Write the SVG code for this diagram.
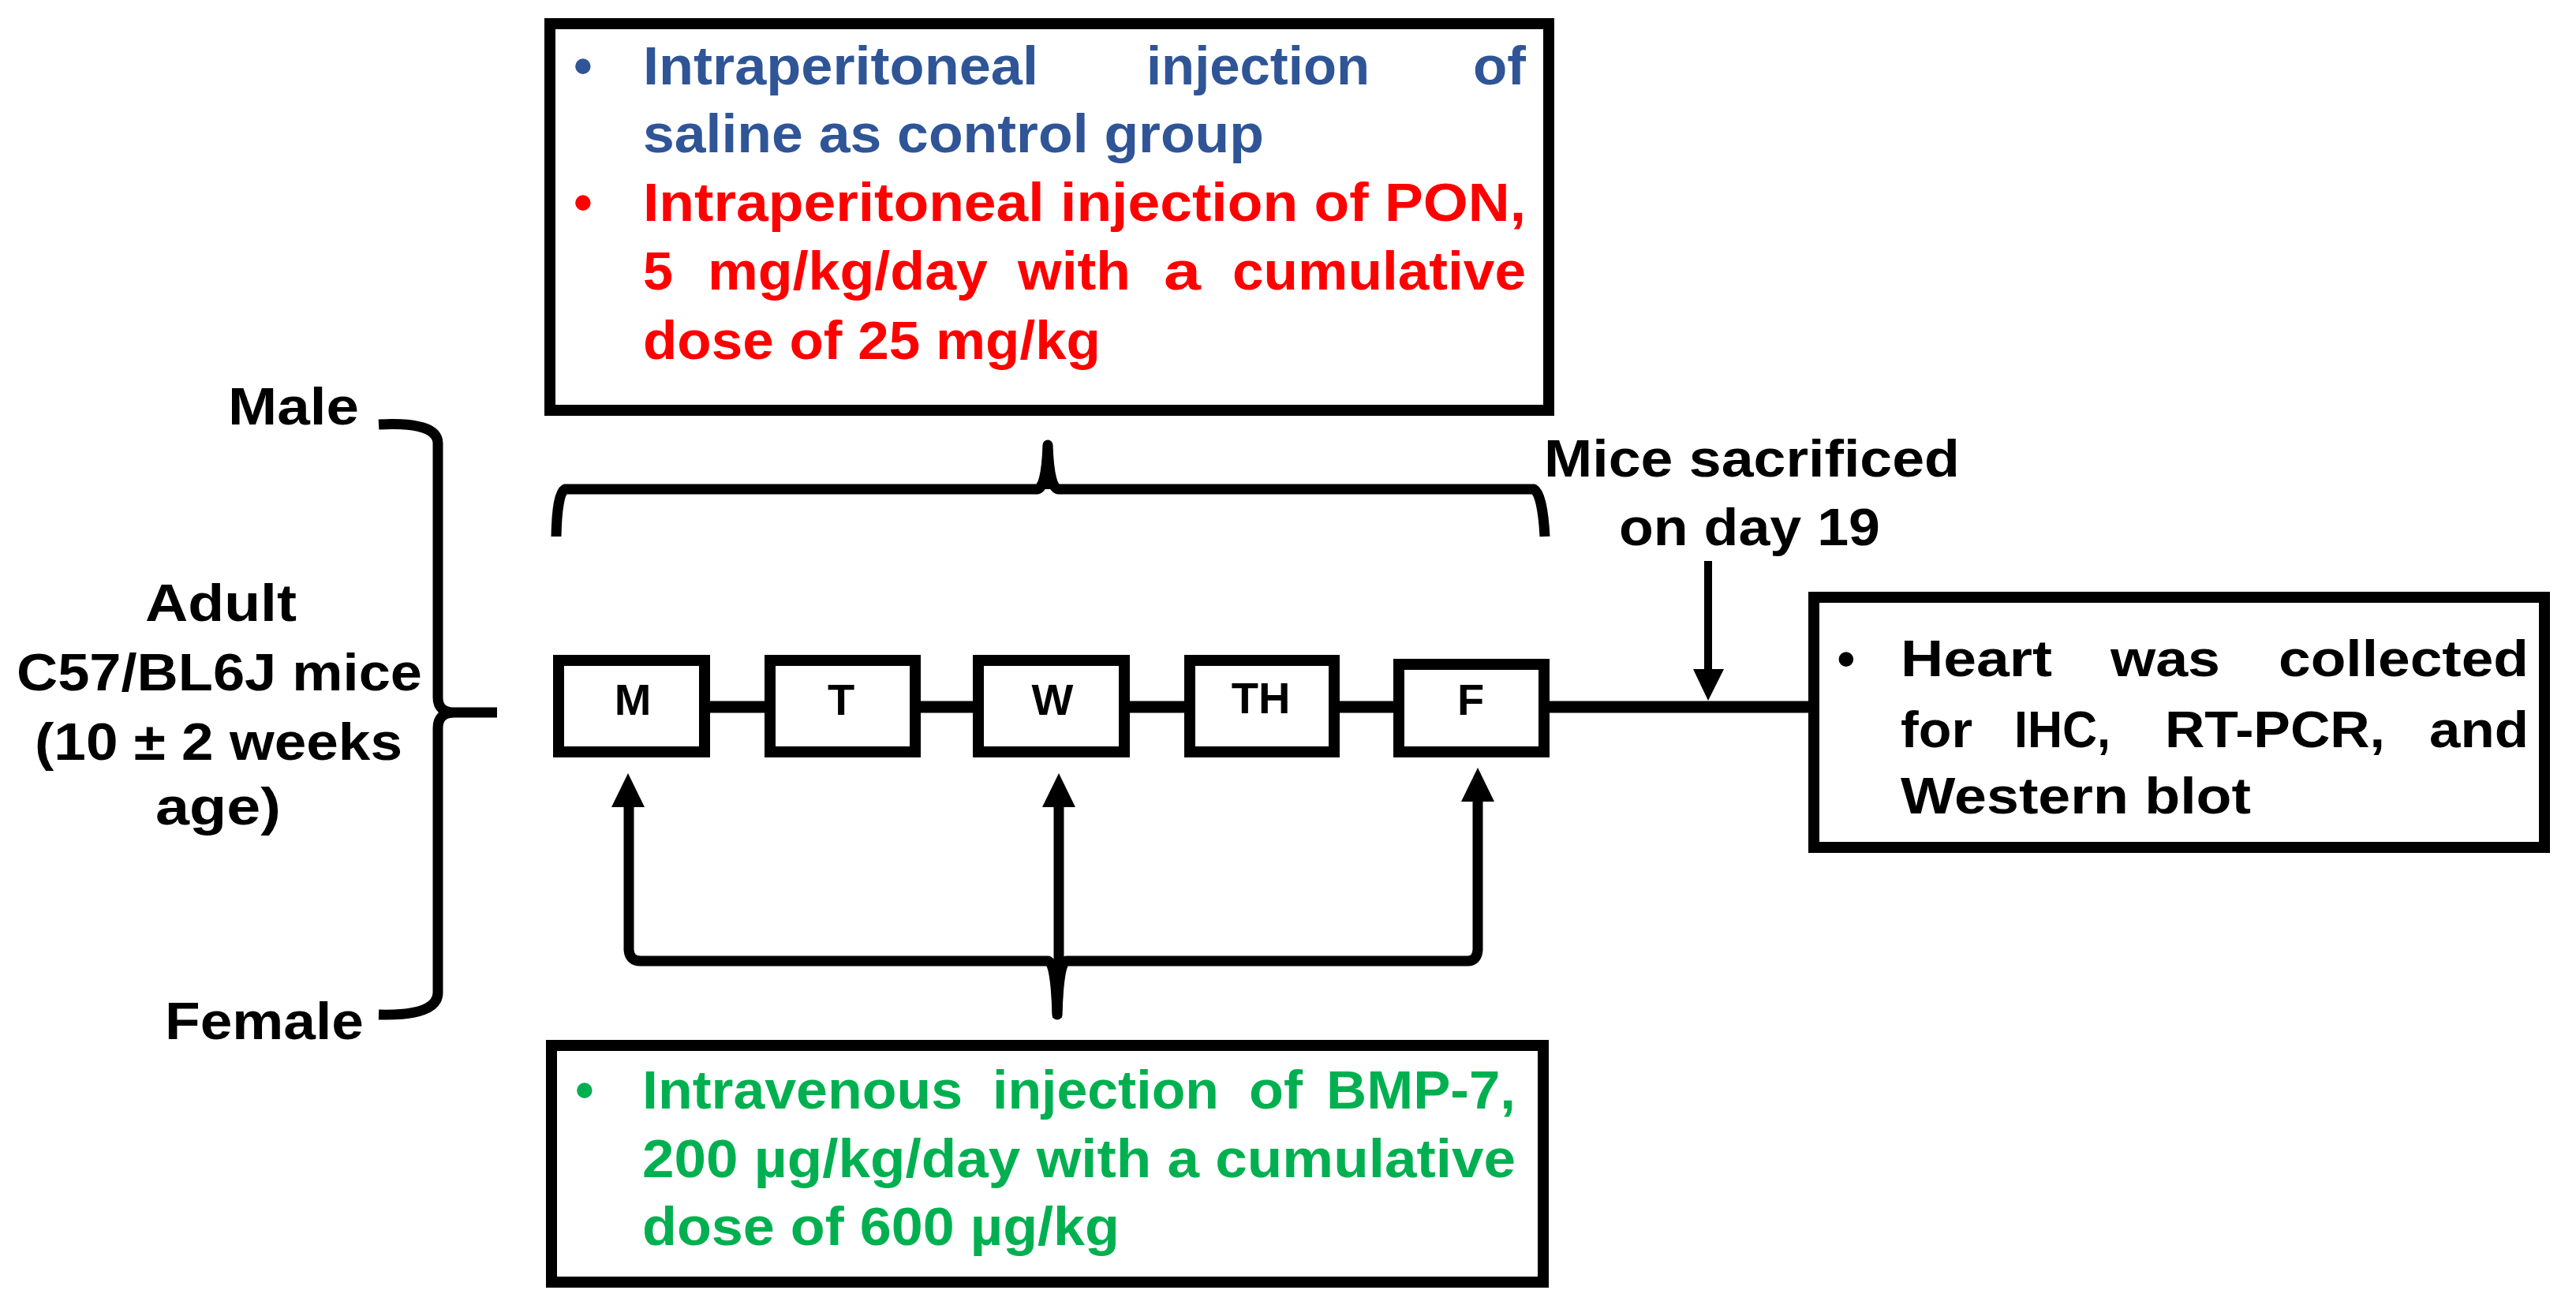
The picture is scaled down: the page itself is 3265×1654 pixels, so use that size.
<svg xmlns="http://www.w3.org/2000/svg" width="3265" height="1654" viewBox="0 0 3265 1654">
<defs>
<style>
text{font-family:"Liberation Sans",Arial,sans-serif;font-weight:bold}
.t{font-size:68px}
.s{font-size:66px}
.r{font-size:65px}
.d{font-size:56px;text-anchor:middle}
.blue{fill:#2F5597}
.red{fill:#FF0000}
.green{fill:#00B050}
.blk{fill:#000}
.box{fill:#fff;stroke:#000;stroke-width:14}
.ln{fill:none;stroke:#000;stroke-width:13;stroke-linejoin:round}
.bul{text-anchor:middle}
</style>
</defs>
<rect width="3265" height="1654" fill="#fff"/>

<g id="connectors">
<line x1="895" y1="896" x2="2300" y2="896" stroke="#000" stroke-width="15"/>
<path class="ln" d="M480,538 Q555,534 555,562 L555,884 Q555,903 576,903 L630,903 M576,903 Q555,903 555,923 L555,1258 Q555,1288 480,1286"/>
<path class="ln" d="M705,680 Q706,626 716,620 L1314,620 Q1326,620 1328,564 Q1330,620 1342,620 L1944,620 Q1955,626 1958,680"/>
<path d="M1320,620 L1323,560 L1333,560 L1336,620 Z"/>
<path class="ln" d="M797,1018 L797,1204 Q798,1218 812,1218 L1328,1218 Q1338,1218 1340,1286 Q1342,1218 1352,1218 L1860,1218 Q1872,1218 1873,1204 L1873,1012"/>
<path d="M1331,1218 L1334,1290 L1346,1290 L1349,1218 Z"/>
<line x1="1342" y1="1218" x2="1342" y2="1018" stroke="#000" stroke-width="13"/>
<polygon points="796,980 775,1023 817,1023"/>
<polygon points="1342,980 1321,1023 1363,1023"/>
<polygon points="1873,973 1852,1016 1894,1016"/>
<line x1="2165" y1="711" x2="2165" y2="852" stroke="#000" stroke-width="10"/>
<polygon points="2165,888 2146,848 2185,848"/>
</g>

<g id="top-box">
<rect class="box" x="697" y="30" width="1266" height="490"/>
<text class="t blue bul" x="739" y="107">•</text>
<text class="t blue" x="815" y="107" textLength="501" lengthAdjust="spacingAndGlyphs">Intraperitoneal</text>
<text class="t blue" x="1453" y="107" textLength="283" lengthAdjust="spacingAndGlyphs">injection</text>
<text class="t blue" x="1867" y="107" textLength="67" lengthAdjust="spacingAndGlyphs">of</text>
<text class="t blue" x="815" y="193" textLength="787" lengthAdjust="spacingAndGlyphs">saline as control group</text>
<text class="t red bul" x="739" y="280">•</text>
<text class="t red" x="815" y="280" textLength="1119" lengthAdjust="spacingAndGlyphs">Intraperitoneal injection of PON,</text>
<text class="t red" x="815" y="367" textLength="38" lengthAdjust="spacingAndGlyphs">5</text>
<text class="t red" x="897" y="367" textLength="355" lengthAdjust="spacingAndGlyphs">mg/kg/day</text>
<text class="t red" x="1290" y="367" textLength="143" lengthAdjust="spacingAndGlyphs">with</text>
<text class="t red" x="1475" y="367" textLength="47" lengthAdjust="spacingAndGlyphs">a</text>
<text class="t red" x="1562" y="367" textLength="372" lengthAdjust="spacingAndGlyphs">cumulative</text>
<text class="t red" x="815" y="455" textLength="580" lengthAdjust="spacingAndGlyphs">dose of 25 mg/kg</text>
</g>

<g id="mice-label">
<text class="s blk" x="289" y="538" textLength="166" lengthAdjust="spacingAndGlyphs">Male</text>
<text class="s blk" x="184" y="787" textLength="192" lengthAdjust="spacingAndGlyphs">Adult</text>
<text class="s blk" x="21" y="875" textLength="514" lengthAdjust="spacingAndGlyphs">C57/BL6J mice</text>
<text class="s blk" x="44" y="963" textLength="466" lengthAdjust="spacingAndGlyphs">(10 ± 2 weeks</text>
<text class="s blk" x="197" y="1045" textLength="159" lengthAdjust="spacingAndGlyphs">age)</text>
<text class="s blk" x="209" y="1317" textLength="252" lengthAdjust="spacingAndGlyphs">Female</text>
</g>

<g id="day-M"><rect class="box" x="708" y="837" width="185" height="116"/><text class="d" x="802" y="906">M</text></g>
<g id="day-T"><rect class="box" x="976" y="837" width="184" height="116"/><text class="d" x="1066" y="906">T</text></g>
<g id="day-W"><rect class="box" x="1240" y="837" width="185" height="116"/><text class="d" x="1334" y="906">W</text></g>
<g id="day-TH"><rect class="box" x="1508" y="837" width="183" height="116"/><text class="d" x="1598" y="904">TH</text></g>
<g id="day-F"><rect class="box" x="1773" y="842" width="184" height="111"/><text class="d" x="1864" y="906">F</text></g>

<g id="sacrifice-label">
<text class="s blk" x="1957" y="604" textLength="527" lengthAdjust="spacingAndGlyphs">Mice sacrificed</text>
<text class="s blk" x="2052" y="691" textLength="331" lengthAdjust="spacingAndGlyphs">on day 19</text>
</g>

<g id="right-box">
<rect class="box" x="2299" y="757" width="926" height="317"/>
<text class="r blk bul" x="2340" y="857">•</text>
<text class="r blk" x="2409" y="857" textLength="192" lengthAdjust="spacingAndGlyphs">Heart</text>
<text class="r blk" x="2675" y="857" textLength="139" lengthAdjust="spacingAndGlyphs">was</text>
<text class="r blk" x="2888" y="857" textLength="317" lengthAdjust="spacingAndGlyphs">collected</text>
<text class="r blk" x="2409" y="947" textLength="91" lengthAdjust="spacingAndGlyphs">for</text>
<text class="r blk" x="2553" y="947" textLength="122" lengthAdjust="spacingAndGlyphs">IHC,</text>
<text class="r blk" x="2744" y="947" textLength="279" lengthAdjust="spacingAndGlyphs">RT-PCR,</text>
<text class="r blk" x="3079" y="947" textLength="126" lengthAdjust="spacingAndGlyphs">and</text>
<text class="r blk" x="2409" y="1031" textLength="444" lengthAdjust="spacingAndGlyphs">Western blot</text>
</g>

<g id="bottom-box">
<rect class="box" x="699" y="1325" width="1257" height="300"/>
<text class="t green bul" x="741" y="1405">•</text>
<text class="t green" x="814" y="1405" textLength="406" lengthAdjust="spacingAndGlyphs">Intravenous</text>
<text class="t green" x="1258" y="1405" textLength="287" lengthAdjust="spacingAndGlyphs">injection</text>
<text class="t green" x="1583" y="1405" textLength="68" lengthAdjust="spacingAndGlyphs">of</text>
<text class="t green" x="1681" y="1405" textLength="240" lengthAdjust="spacingAndGlyphs">BMP-7,</text>
<text class="t green" x="814" y="1492" textLength="1107" lengthAdjust="spacingAndGlyphs">200 µg/kg/day with a cumulative</text>
<text class="t green" x="814" y="1578" textLength="605" lengthAdjust="spacingAndGlyphs">dose of 600 µg/kg</text>
</g>
</svg>
